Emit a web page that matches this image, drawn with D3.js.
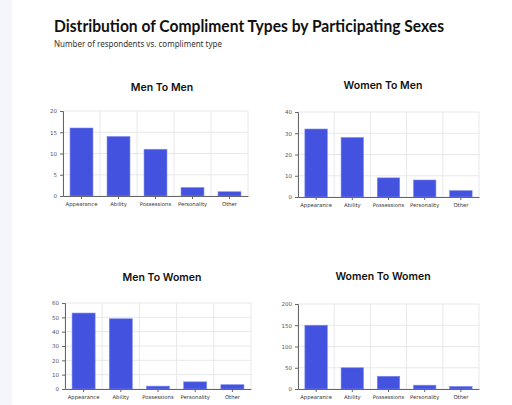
<!DOCTYPE html>
<html>
<head>
<meta charset="utf-8">
<script src="https://cdn.jsdelivr.net/npm/d3@7"></script>
<style>
  body { margin: 0; background: #fff; }
  svg { display: block; }
</style>
</head>
<body>
<div id="chart"></div>
<script>
// compliment categories shared by all four panels
const categories = ["Appearance", "Ability", "Possessions", "Personality", "Other"];

const menToMen = [16, 14, 11, 2, 1];
const womenToMen = [32, 28, 9, 8, 3];
const menToWomen = [53, 49, 2, 5, 3];
const womenToWomen = [150, 50, 30, 9, 6];

const yTicksMenToMen = [0, 5, 10, 15, 20];
const yTicksWomenToMen = [0, 10, 20, 30, 40];
const yTicksMenToWomen = [0, 10, 20, 30, 40, 50, 60];
const yTicksWomenToWomen = [0, 50, 100, 150, 200];

const panelTitles = ["Men To Men", "Women To Men", "Men To Women", "Women To Women"];

const width = 512, height = 405;
const barColor = "#4352df";

const svg = d3.select("#chart").append("svg")
  .attr("width", width)
  .attr("height", height);

// faint strip on the left edge
svg.append("rect").attr("x", 0).attr("y", 0).attr("width", 12).attr("height", height)
  .attr("fill", "#f4f6fb");

svg.append("text")
  .attr("x", 54).attr("y", 32)
  .attr("font-family", "Lato, sans-serif")
  .attr("font-weight", 700)
  .attr("font-size", 17.5)
  .attr("fill", "#111")
  .attr("textLength", 390)
  .attr("lengthAdjust", "spacingAndGlyphs")
  .text("Distribution of Compliment Types by Participating Sexes");

svg.append("text")
  .attr("x", 54).attr("y", 47)
  .attr("font-family", "'Noto Sans', sans-serif")
  .attr("font-size", 8)
  .attr("fill", "#333")
  .text("Number of respondents vs. compliment type");

const panels = [
  { title: panelTitles[0], values: menToMen, ticks: yTicksMenToMen, x0: 63, x1: 248, y0: 111, y1: 196, tx: 162, ty: 91 },
  { title: panelTitles[1], values: womenToMen, ticks: yTicksWomenToMen, x0: 298, x1: 479, y0: 112, y1: 197, tx: 383, ty: 89 },
  { title: panelTitles[2], values: menToWomen, ticks: yTicksMenToWomen, x0: 65, x1: 251, y0: 303, y1: 389, tx: 162, ty: 281 },
  { title: panelTitles[3], values: womenToWomen, ticks: yTicksWomenToWomen, x0: 298, x1: 479, y0: 304, y1: 389, tx: 383, ty: 280 }
];

panels.forEach(p => drawPanel(p));

function drawPanel(p) {
  const x = d3.scaleBand()
    .domain(categories)
    .range([p.x0, p.x1])
    .paddingInner(0.38)
    .paddingOuter(0.19);

  const y = d3.scaleLinear()
    .domain([0, d3.max(p.ticks)])
    .range([p.y1, p.y0]);

  const g = svg.append("g");

  g.append("text")
    .attr("x", p.tx).attr("y", p.ty)
    .attr("text-anchor", "middle")
    .attr("font-family", "Inter, sans-serif")
    .attr("font-weight", 600)
    .attr("font-size", 10.5)
    .attr("fill", "#111")
    .text(p.title);

  // horizontal grid
  g.selectAll(".hgrid").data(p.ticks).enter().append("line")
    .attr("x1", p.x0).attr("x2", p.x1)
    .attr("y1", d => y(d)).attr("y2", d => y(d))
    .attr("stroke", "#e8e8ec").attr("stroke-width", 1);

  // vertical grid at band boundaries
  const step = x.step();
  const bounds = d3.range(categories.length + 1).map(i => p.x0 + i * step);
  g.selectAll(".vgrid").data(bounds).enter().append("line")
    .attr("x1", d => d).attr("x2", d => d)
    .attr("y1", p.y0).attr("y2", p.y1)
    .attr("stroke", "#e8e8ec").attr("stroke-width", 1);

  g.selectAll(".bar").data(p.values).enter().append("rect")
    .attr("x", (d, i) => x(categories[i]))
    .attr("y", d => y(d))
    .attr("width", x.bandwidth())
    .attr("height", d => p.y1 - y(d))
    .attr("fill", barColor)
    .attr("stroke", "#7f8bea")
    .attr("stroke-width", 0.6);

  const yAxis = g.append("g")
    .attr("transform", `translate(${p.x0},0)`)
    .call(d3.axisLeft(y).tickValues(p.ticks).tickSize(3).tickPadding(3));
  yAxis.select(".domain").attr("stroke", "#666");
  yAxis.selectAll(".tick line").attr("stroke", "#666");
  yAxis.selectAll("text")
    .attr("font-family", "'DejaVu Sans', sans-serif")
    .attr("font-size", 5.5)
    .attr("fill", "#555");

  const xAxis = g.append("g")
    .attr("transform", `translate(0,${p.y1})`)
    .call(d3.axisBottom(x).tickSize(3).tickPadding(3).tickSizeOuter(0));
  xAxis.select(".domain").attr("stroke", "#666");
  xAxis.selectAll(".tick line").attr("stroke", "#666");
  xAxis.selectAll("text")
    .attr("font-family", "'DejaVu Sans', sans-serif")
    .attr("font-size", 5.3)
    .attr("fill", "#333");
}
</script>
</body>
</html>
